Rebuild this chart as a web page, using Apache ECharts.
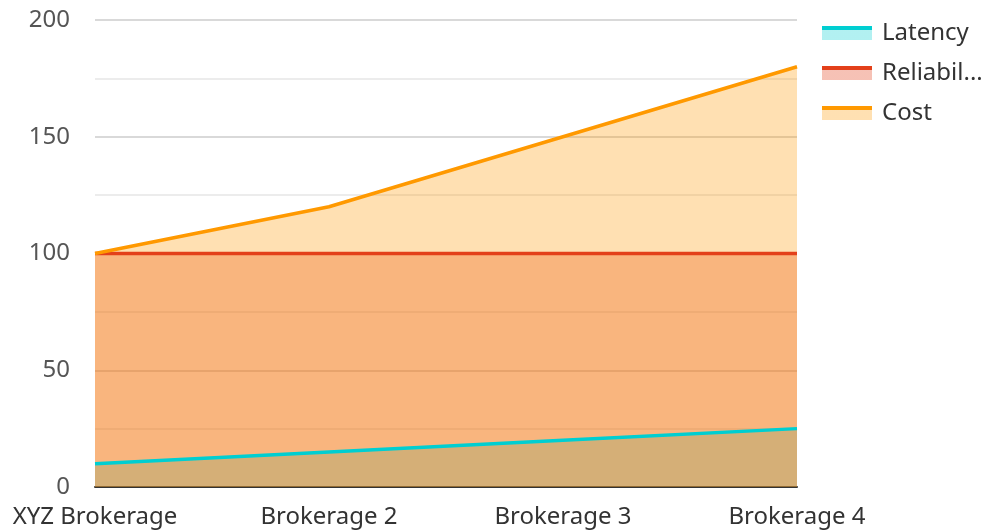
<!DOCTYPE html>
<html>
<head>
<meta charset="utf-8">
<script src="https://cdn.jsdelivr.net/npm/echarts@6/dist/echarts.min.js"></script>
<style>
  html, body { margin: 0; padding: 0; background: #fff; }
  #chart { width: 987px; height: 531px; }
</style>
</head>
<body>
<div id="chart"></div>
<script>
const categories  = ['XYZ Brokerage', 'Brokerage 2', 'Brokerage 3', 'Brokerage 4']
const latency     = [10, 15, 20, 25]
const reliability = [100, 100, 100, 100]
const cost        = [100, 120, 150, 180]

const seriesNames  = ['Latency', 'Reliability', 'Cost']
const lineColors   = ['#00CED1', '#E3401A', '#FF9900']
const fillColors   = ['rgba(0,206,209,0.3)', 'rgba(227,64,26,0.32)', 'rgba(255,153,0,0.3)']
const seriesValues = [latency, reliability, cost]

const font = 'Noto Sans, sans-serif'

// legend swatch: solid stripe on top, pale fill below
function swatch(i) {
  return {
    type: 'linear', x: 0, y: 0, x2: 0, y2: 1,
    colorStops: [
      { offset: 0,    color: lineColors[i] },
      { offset: 0.28, color: lineColors[i] },
      { offset: 0.28, color: fillColors[i] },
      { offset: 1,    color: fillColors[i] }
    ]
  }
}

const chart = echarts.init(document.getElementById('chart'))
chart.setOption({
  animation: false,
  grid: { left: 95, right: 190, top: 20, bottom: 44 },
  legend: {
    orient: 'vertical',
    left: 817,
    top: 16,
    icon: 'rect',
    itemWidth: 50,
    itemHeight: 14,
    itemGap: 16,
    textStyle: {
      fontFamily: font, fontSize: 24, color: '#333',
      padding: [0, 0, 0, 5],
      width: 106, overflow: 'truncate', ellipsis: '...'
    },
    data: seriesNames.map((n, i) => ({ name: n, itemStyle: { color: swatch(i) } }))
  },
  xAxis: {
    type: 'category',
    data: categories,
    boundaryGap: false,
    axisLine: { lineStyle: { color: '#333', width: 2 } },
    axisTick: { show: false },
    axisLabel: { fontFamily: font, fontSize: 24, color: '#333', margin: 18 },
    splitLine: { show: false }
  },
  yAxis: {
    type: 'value',
    min: 0, max: 200, interval: 50,
    axisLine: { show: false },
    axisTick: { show: false },
    axisLabel: { fontFamily: font, fontSize: 24, color: '#555', margin: 25 },
    splitLine: { lineStyle: { color: '#cccccc', width: 1.5 } },
    minorTick: { show: false, splitNumber: 2 },
    minorSplitLine: { show: true, lineStyle: { color: '#e6e6e6', width: 1.5 } }
  },
  series: seriesValues.map((vals, i) => ({
    name: seriesNames[i],
    type: 'line',
    data: vals,
    symbol: 'none',
    lineStyle: { color: lineColors[i], width: 3.5 },
    itemStyle: { color: lineColors[i] },
    areaStyle: { color: fillColors[i], opacity: 1, origin: 'start' }
  }))
})
</script>
</body>
</html>
